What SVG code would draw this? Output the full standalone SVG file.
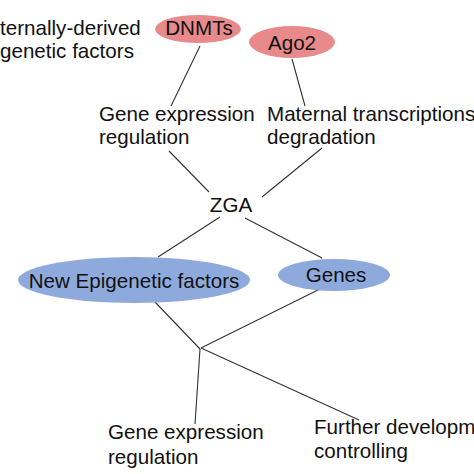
<svg xmlns="http://www.w3.org/2000/svg" width="474" height="474" viewBox="0 0 474 474">
<style>
text{font-family:"Liberation Sans",Arial,sans-serif;font-size:20.6px;fill:#111}
.pink{fill:#e88a8c}
.blue{fill:#8eaadd}
.c line{stroke:#333;stroke-width:1.1}
</style>
<rect width="474" height="474" fill="#fff"/>
<g id="connectors" class="c">
<line x1="200" y1="46" x2="171" y2="106"/>
<line x1="292" y1="59" x2="305" y2="106"/>
<line x1="169" y1="151" x2="209" y2="192"/>
<line x1="322" y1="148" x2="262" y2="197"/>
<line x1="220" y1="217" x2="158" y2="257"/>
<line x1="245" y1="218" x2="322" y2="258"/>
<line x1="155" y1="302" x2="200" y2="349"/>
<line x1="322" y1="288" x2="201" y2="348"/>
<line x1="200" y1="349" x2="195" y2="424"/>
<line x1="201" y1="348" x2="359" y2="420"/>
</g>
<g id="maternal-factors"><text x="0" y="35">ternally-derived</text><text x="0" y="58">genetic factors</text></g>
<g id="dnmts"><ellipse class="pink" cx="198" cy="29" rx="43" ry="14"/><text x="199" y="35" text-anchor="middle">DNMTs</text></g>
<g id="ago2"><ellipse class="pink" cx="292" cy="42" rx="43" ry="16"/><text x="292" y="50" text-anchor="middle">Ago2</text></g>
<g id="gene-expr-top"><text x="99" y="121">Gene expression</text><text x="99" y="144">regulation</text></g>
<g id="maternal-degradation"><text x="267" y="121">Maternal transcriptions</text><text x="267" y="144">degradation</text></g>
<g id="zga"><text x="231" y="212" text-anchor="middle">ZGA</text></g>
<g id="new-epigenetic"><ellipse class="blue" cx="134" cy="280" rx="116" ry="23"/><text x="134" y="288" text-anchor="middle">New Epigenetic factors</text></g>
<g id="genes"><ellipse class="blue" cx="334" cy="275" rx="56" ry="16"/><text x="336" y="282" text-anchor="middle">Genes</text></g>
<g id="gene-expr-bottom"><text x="108" y="439">Gene expression</text><text x="108" y="464">regulation</text></g>
<g id="further"><text x="314" y="434">Further developm</text><text x="314" y="458">controlling</text></g>
</svg>
